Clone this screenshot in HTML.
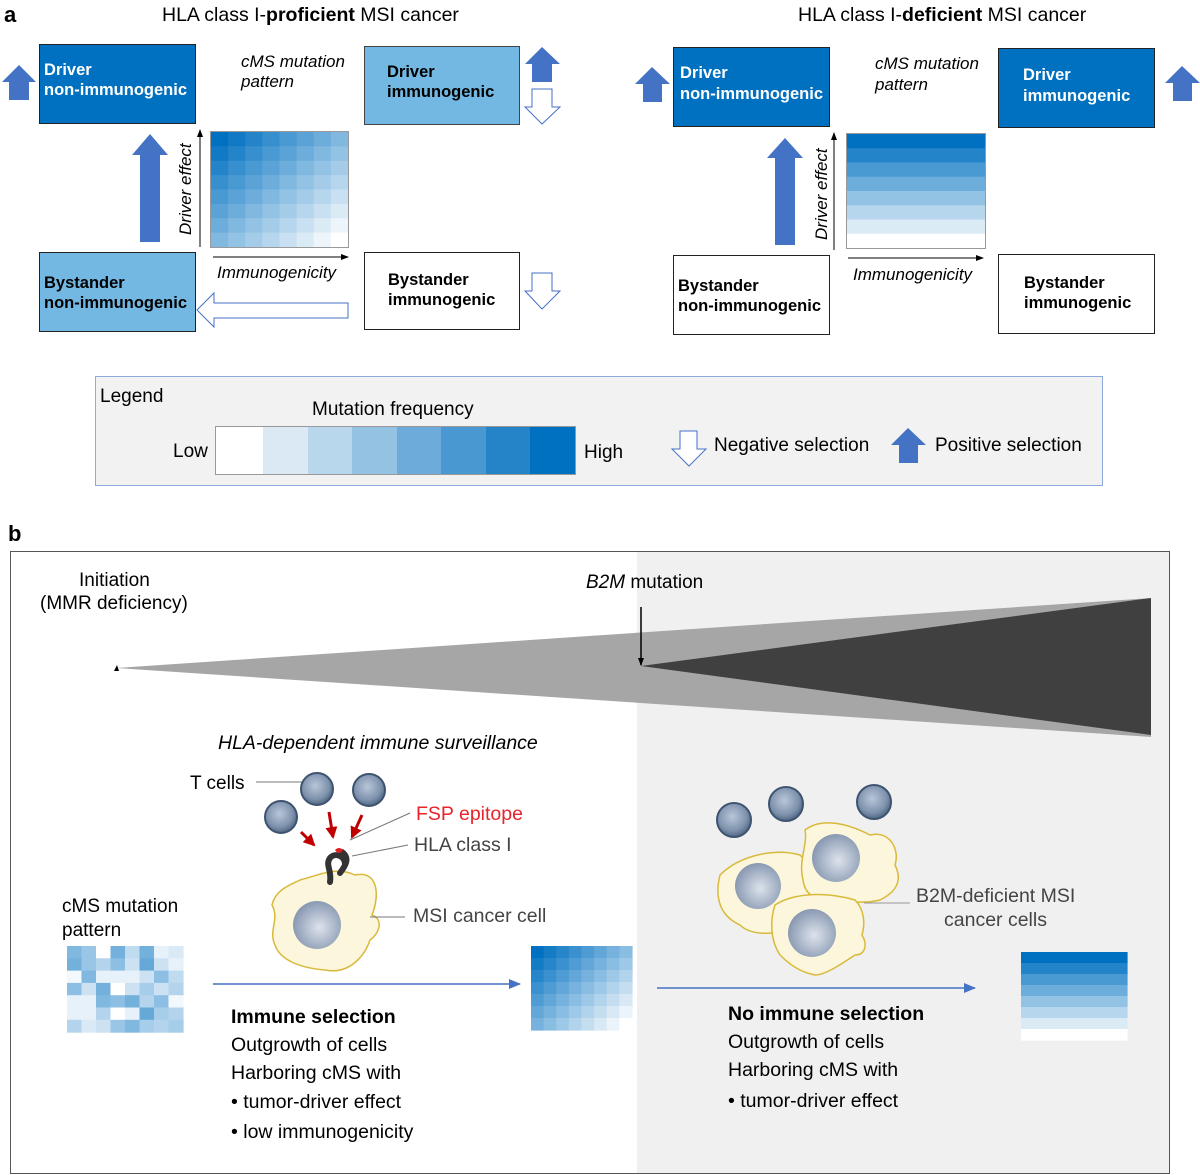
<!DOCTYPE html>
<html><head><meta charset="utf-8"><style>
html,body{margin:0;padding:0;background:#fff}
svg{display:block}
text{font-family:"Liberation Sans",Arial,sans-serif}
.b{font-weight:bold}
</style></head><body>
<svg id="s" width="1200" height="1175" viewBox="0 0 1200 1175" xmlns="http://www.w3.org/2000/svg">
<defs>
<marker id="ah" markerWidth="8" markerHeight="8" refX="7" refY="4" orient="auto" markerUnits="userSpaceOnUse"><path d="M0,1 L8,4 L0,7 z" fill="#000"/></marker>
<marker id="bh" markerWidth="12" markerHeight="12" refX="11" refY="6" orient="auto" markerUnits="userSpaceOnUse"><path d="M0,1 L12,6 L0,11 z" fill="#4472c4"/></marker>
<marker id="rh" markerWidth="12" markerHeight="12" refX="10" refY="6" orient="auto" markerUnits="userSpaceOnUse"><path d="M0,0 L12,6 L0,12 z" fill="#c00000"/></marker>
<radialGradient id="tc" cx="0.45" cy="0.4" r="0.6"><stop offset="0" stop-color="#b9c6d8"/><stop offset="0.7" stop-color="#7e92ad"/><stop offset="1" stop-color="#4f6581"/></radialGradient>
<radialGradient id="nu" cx="0.55" cy="0.55" r="0.6"><stop offset="0" stop-color="#dde3ec"/><stop offset="1" stop-color="#8293ad"/></radialGradient>
</defs>

<!-- Panel a -->
<text x="4" y="22" font-size="22" class="b">a</text>
<text x="162" y="21" font-size="19.5">HLA class I-<tspan class="b">proficient</tspan> MSI cancer</text>
<text x="798" y="21" font-size="19.5">HLA class I-<tspan class="b">deficient</tspan> MSI cancer</text>

<!-- left quadrant -->
<rect x="39.5" y="44.5" width="156" height="79" fill="#0070c0" stroke="#222"/>
<text x="44" y="75" font-size="16.5" class="b" fill="#fff">Driver</text>
<text x="44" y="95" font-size="16.5" class="b" fill="#fff">non-immunogenic</text>
<rect x="364.5" y="46.5" width="155" height="78" fill="#72b8e3" stroke="#444"/>
<text x="387" y="77" font-size="16.5" class="b">Driver</text>
<text x="387" y="97" font-size="16.5" class="b">immunogenic</text>
<rect x="39.5" y="252.5" width="156" height="79" fill="#72b8e3" stroke="#222"/>
<text x="44" y="288" font-size="16.5" class="b">Bystander</text>
<text x="44" y="308" font-size="16.5" class="b">non-immunogenic</text>
<rect x="364.5" y="252.5" width="155" height="77" fill="#fff" stroke="#222"/>
<text x="388" y="285" font-size="16.5" class="b">Bystander</text>
<text x="388" y="305" font-size="16.5" class="b">immunogenic</text>
<text x="241" y="67" font-size="17" font-style="italic">cMS mutation</text>
<text x="241" y="87" font-size="17" font-style="italic">pattern</text>

<polygon points="2,82 19,65 36,82 29,82 29,100 9,100 9,82" fill="#4472c4"/>
<polygon points="525,64 542,47 560,64 552,64 552,82 532,82 532,64" fill="#4472c4"/>
<polygon points="532,89 552,89 552,107 560,107 542,124 525,107 532,107" fill="#fff" stroke="#4472c4"/>
<polygon points="532,273 552,273 552,291 560,291 542,309 525,291 532,291" fill="#fff" stroke="#4472c4"/>
<polygon points="132,155 150,134 168,155 160,155 160,242 140,242 140,155" fill="#4472c4"/>
<polygon points="197,310 214,293 214,303 348,303 348,318 214,318 214,327" fill="#fff" stroke="#4472c4"/>
<g id="hmL"></g>
<rect x="210.5" y="131.5" width="138" height="116" fill="none" stroke="#999"/>
<line x1="200" y1="247" x2="200" y2="130" stroke="#000" marker-end="url(#ah)"/>
<line x1="213" y1="257" x2="348" y2="257" stroke="#000" marker-end="url(#ah)"/>
<text transform="translate(191,235) rotate(-90)" font-size="17" font-style="italic">Driver effect</text>
<text x="217" y="278" font-size="17" font-style="italic">Immunogenicity</text>

<!-- right quadrant -->
<rect x="673.5" y="47.5" width="156" height="79" fill="#0070c0" stroke="#222"/>
<text x="680" y="78" font-size="16.5" class="b" fill="#fff">Driver</text>
<text x="680" y="99" font-size="16.5" class="b" fill="#fff">non-immunogenic</text>
<rect x="998.5" y="48.5" width="156" height="79" fill="#0070c0" stroke="#222"/>
<text x="1023" y="80" font-size="16.5" class="b" fill="#fff">Driver</text>
<text x="1023" y="101" font-size="16.5" class="b" fill="#fff">immunogenic</text>
<rect x="673.5" y="255.5" width="156" height="79" fill="#fff" stroke="#222"/>
<text x="678" y="291" font-size="16.5" class="b">Bystander</text>
<text x="678" y="311" font-size="16.5" class="b">non-immunogenic</text>
<rect x="998.5" y="254.5" width="156" height="79" fill="#fff" stroke="#222"/>
<text x="1024" y="288" font-size="16.5" class="b">Bystander</text>
<text x="1024" y="308" font-size="16.5" class="b">immunogenic</text>
<text x="875" y="69" font-size="17" font-style="italic">cMS mutation</text>
<text x="875" y="90" font-size="17" font-style="italic">pattern</text>
<polygon points="635,84 652,67 670,84 662,84 662,102 643,102 643,84" fill="#4472c4"/>
<polygon points="1165,83 1182,66 1200,83 1192,83 1192,101 1173,101 1173,83" fill="#4472c4"/>
<polygon points="767,158 785,138 803,158 795,158 795,245 775,245 775,158" fill="#4472c4"/>
<g id="hmR"></g>
<rect x="846.5" y="133.5" width="139" height="115" fill="none" stroke="#999"/>
<line x1="834" y1="250" x2="834" y2="133" stroke="#000" marker-end="url(#ah)"/>
<line x1="848" y1="258" x2="983" y2="258" stroke="#000" marker-end="url(#ah)"/>
<text transform="translate(827,240) rotate(-90)" font-size="17" font-style="italic">Driver effect</text>
<text x="853" y="280" font-size="17" font-style="italic">Immunogenicity</text>

<!-- Legend -->
<rect x="95.5" y="376.5" width="1007" height="109" fill="#f2f2f2" stroke="#8ea9db"/>
<text x="100" y="402" font-size="19">Legend</text>
<text x="312" y="415" font-size="19">Mutation frequency</text>
<text x="173" y="457" font-size="19">Low</text>
<text x="584" y="458" font-size="19">High</text>
<g id="lg"></g>
<rect x="215.5" y="426.5" width="360" height="48" fill="none" stroke="#999"/>
<polygon points="680,431 697,431 697,449 706,449 689,466 672,449 680,449" fill="#fff" stroke="#4472c4"/>
<text x="714" y="451" font-size="19">Negative selection</text>
<polygon points="891,445 908,428 926,445 918,445 918,463 899,463 899,445" fill="#4472c4"/>
<text x="935" y="451" font-size="19">Positive selection</text>

<!-- Panel b -->
<text x="8" y="541" font-size="22" class="b">b</text>
<rect x="637" y="551" width="532" height="622" fill="#f0f0f0"/>
<rect x="10.5" y="551.5" width="1159" height="622" fill="none" stroke="#555"/>
<polygon points="116,668 1151,598 1151,737" fill="#a6a6a6"/>
<polygon points="641,666 1151,598 1151,735" fill="#404040"/>
<polygon points="114,671 117,665 119,671" fill="#000"/>
<line x1="641" y1="607" x2="641" y2="665" stroke="#000" stroke-width="1.5" marker-end="url(#ah)"/>
<text x="79" y="586" font-size="19">Initiation</text>
<text x="40" y="609" font-size="19">(MMR deficiency)</text>
<text x="586" y="588" font-size="19"><tspan font-style="italic">B2M</tspan> mutation</text>
<text x="218" y="749" font-size="19.5" font-style="italic">HLA-dependent immune surveillance</text>

<!-- left cells -->
<text x="190" y="789" font-size="19">T cells</text>
<line x1="256" y1="782" x2="302" y2="782" stroke="#777"/>
<g id="tcells">
<circle cx="317" cy="789" r="16"/><circle cx="369" cy="790" r="16"/><circle cx="281" cy="817" r="16"/>
<circle cx="734" cy="820" r="17"/><circle cx="786" cy="804" r="17"/><circle cx="874" cy="802" r="17"/>
</g>
<line x1="301" y1="832" x2="314" y2="845" stroke="#c00000" stroke-width="3" marker-end="url(#rh)"/>
<line x1="329" y1="812" x2="333" y2="837" stroke="#c00000" stroke-width="3" marker-end="url(#rh)"/>
<line x1="362" y1="815" x2="352" y2="837" stroke="#c00000" stroke-width="3" marker-end="url(#rh)"/>
<path d="M300,880 C320,875 335,866 355,875 C378,870 380,895 372,915 C385,920 378,935 370,940 C365,955 350,975 325,970 C300,968 280,960 275,945 C268,930 280,920 272,905 C275,890 290,885 300,880 z" fill="#fbf6dc" stroke="#d9b93a" stroke-width="1.5"/>
<circle cx="317" cy="925" r="24" fill="url(#nu)"/>
<path d="M330,882 C332,870 325,865 330,858 C335,852 345,856 345,864 M340,873 C346,865 350,858 342,852" fill="none" stroke="#333" stroke-width="6" stroke-linecap="round"/>
<path d="M335,850 q4,-4 8,0 q-4,6 -8,0" fill="#e02020"/>
<text x="416" y="820" font-size="19.5" fill="#e8242a">FSP epitope</text>
<line x1="350" y1="840" x2="410" y2="813" stroke="#777"/>
<text x="414" y="851" font-size="19.5" fill="#444">HLA class I</text>
<line x1="352" y1="856" x2="408" y2="845" stroke="#777"/>
<text x="413" y="922" font-size="19.5" fill="#444">MSI cancer cell</text>
<line x1="370" y1="917" x2="405" y2="917" stroke="#777"/>

<text x="62" y="912" font-size="19">cMS mutation</text>
<text x="62" y="936" font-size="19">pattern</text>
<g id="hmA"></g><g id="hmB"></g><g id="hmC"></g>
<line x1="213" y1="984" x2="520" y2="984" stroke="#4472c4" stroke-width="1.5" marker-end="url(#bh)"/>
<text x="231" y="1023" font-size="19.5" class="b">Immune selection</text>
<text x="231" y="1051" font-size="19.5">Outgrowth of cells</text>
<text x="231" y="1079" font-size="19.5">Harboring cMS with</text>
<text x="231" y="1108" font-size="19.5">• tumor-driver effect</text>
<text x="231" y="1138" font-size="19.5">• low immunogenicity</text>

<!-- right cells -->
<path d="M720,875 C740,855 775,848 800,855 C815,870 820,880 810,900 C815,925 800,935 790,930 C770,935 750,935 740,925 C718,915 715,895 720,875 z" fill="#fbf6dc" stroke="#d9b93a" stroke-width="1.5"/>
<circle cx="758" cy="886" r="23" fill="url(#nu)"/>
<path d="M805,830 C820,818 845,822 870,835 C890,830 900,850 895,865 C905,885 890,895 880,900 C860,905 840,900 830,898 C815,900 805,895 803,880 C798,860 808,845 805,830 z" fill="#fbf6dc" stroke="#d9b93a" stroke-width="1.5"/>
<circle cx="836" cy="858" r="24" fill="url(#nu)"/>
<path d="M775,905 C790,895 820,890 855,900 C865,910 865,925 862,935 C868,945 865,955 855,955 C840,965 825,975 815,975 C800,972 790,965 780,955 C770,940 770,920 775,905 z" fill="#fbf6dc" stroke="#d9b93a" stroke-width="1.5"/>
<circle cx="812" cy="933" r="24" fill="url(#nu)"/>
<text x="916" y="902" font-size="19.5" fill="#444">B2M-deficient MSI</text>
<text x="944" y="926" font-size="19.5" fill="#444">cancer cells</text>
<line x1="864" y1="903" x2="910" y2="903" stroke="#999"/>
<line x1="657" y1="988" x2="975" y2="988" stroke="#4472c4" stroke-width="1.5" marker-end="url(#bh)"/>
<text x="728" y="1020" font-size="19.5" class="b">No immune selection</text>
<text x="728" y="1048" font-size="19.5">Outgrowth of cells</text>
<text x="728" y="1076" font-size="19.5">Harboring cMS with</text>
<text x="728" y="1107" font-size="19.5">• tumor-driver effect</text>
</svg>
<script>
var NS="http://www.w3.org/2000/svg";
function col(t){t=Math.max(0,Math.min(1,t));var r=Math.round(255-255*t),g=Math.round(255-143*t),b=Math.round(255-63*t);return "rgb("+r+","+g+","+b+")";}
function rect(g,x,y,w,h,f){var r=document.createElementNS(NS,"rect");r.setAttribute("x",x);r.setAttribute("y",y);r.setAttribute("width",w+0.6);r.setAttribute("height",h+0.6);r.setAttribute("fill",f);document.getElementById(g).appendChild(r);}
function grid(g,x,y,w,h,nc,nr,fn){var cw=w/nc,ch=h/nr;for(var r=0;r<nr;r++)for(var c=0;c<nc;c++)rect(g,x+c*cw,y+r*ch,cw,ch,col(fn(r,c)));}
grid("hmL",211,132,137,115,8,8,function(r,c){return 1-(r+c)/14;});
grid("hmR",847,134,138,114,1,8,function(r){return 1-r/7;});
var lc=["#ffffff","#dbe9f5","#b8d6ec","#94c2e3","#6dacda","#4a98d1","#2583c8","#0070c0"];
var xs=[216,263,308,352,397,441,486,530,575];
for(var i=0;i<8;i++)rect("lg",xs[i],427,xs[i+1]-xs[i],47,lc[i]);
grid("hmB",531,946,101,84,8,7,function(r,c){return 1-(r+c)/13;});
grid("hmC",1021,952,106,88,1,8,function(r){return 1-r/7;});
var rv=[.5,.4,0,.55,.25,.55,.1,.15,.55,.4,.3,.45,.2,.6,.2,.1,.05,.5,.1,.1,.1,.2,.45,.25,.45,.2,.55,0,.2,.35,.2,.3,.1,.1,.5,.45,.55,.3,.45,.05,.1,.1,.3,0,.1,.6,.35,.3,.3,.15,.2,.4,.5,.35,.3,.35];
var k=0;for(var r=0;r<7;r++)for(var c=0;c<8;c++){rect("hmA",67+c*14.5,946+r*12.3,14.5,12.3,col(rv[k++]));}
var tc=document.getElementById("tcells").children;
for(var j=0;j<tc.length;j++){tc[j].setAttribute("fill","url(#tc)");tc[j].setAttribute("stroke","#3e5370");tc[j].setAttribute("stroke-width","2");}
</script>
</body></html>
